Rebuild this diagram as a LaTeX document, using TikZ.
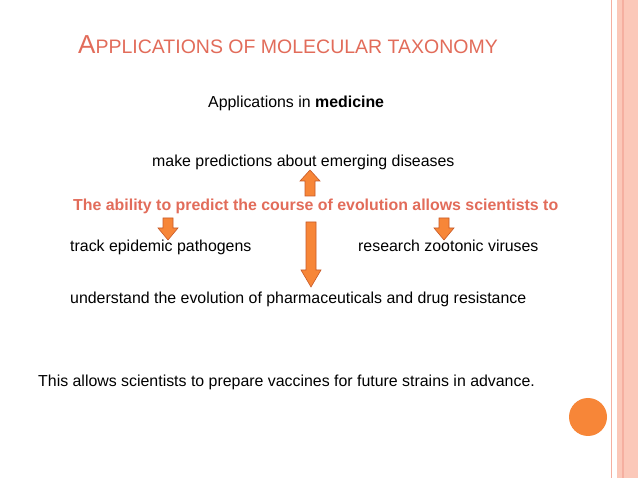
\documentclass[tikz,border=0pt]{standalone}
\usepackage{fontspec}
\setmainfont{Liberation Sans}
\definecolor{salmon}{RGB}{226,108,90}
\definecolor{orng}{RGB}{247,134,56}
\definecolor{orngd}{RGB}{200,90,40}
\definecolor{pinkb}{RGB}{251,200,185}
\definecolor{pinkl}{RGB}{245,175,160}
\begin{document}
\begin{tikzpicture}[x=1pt,y=-1pt,
 txt/.style={anchor=base west,inner sep=0pt,font=\fontsize{15.9}{18}\selectfont},
 barrow/.style={draw=orngd,fill=orng,line width=0.6pt}]
\useasboundingbox (0,0) rectangle (638,478);
\fill[white] (0,0) rectangle (638,478);
% right border
\draw[pinkl,line width=1pt] (611,0) -- (611,478);
\fill[pinkb] (617,0) rectangle (638,478);
\draw[pinkl,line width=1.5pt] (623,0) -- (623,478);
\fill[orng] (588,417) circle (19);
% title
\node[txt,text=salmon,font=\fontsize{26}{30}\selectfont] (title) at (78,54)
 {A\fontsize{19.5}{22}\selectfont PPLICATIONS OF MOLECULAR TAXONOMY};
\node[txt] (med) at (208,108) {Applications in \textbf{medicine}};
\node[txt] (pred) at (152,167) {make predictions about emerging diseases};
\node[txt,text=salmon,font=\bfseries\fontsize{15.9}{18}\selectfont] (abil) at (73,211) {The ability to predict the course of evolution allows scientists to};
\node[txt] (track) at (70,252) {track epidemic pathogens};
\node[txt] (res) at (358,252) {research zootonic viruses};
\node[txt] (und) at (70,304) {understand the evolution of pharmaceuticals and drug resistance};
\node[txt] (this) at (38,387) {This allows scientists to prepare vaccines for future strains in advance.};
% arrows (x center, shaft end, head base, tip)
\newcommand\blockarrow[4]{\draw[barrow] (#1-5,#2) -- (#1+5,#2) -- (#1+5,#3) -- (#1+10,#3) -- (#1,#4) -- (#1-10,#3) -- (#1-5,#3) -- cycle;}
\blockarrow{310}{196}{181}{170}
\blockarrow{168}{218}{228}{240}
\blockarrow{444}{218}{228}{240}
\blockarrow{311}{222}{270}{287}
\end{tikzpicture}
\end{document}
